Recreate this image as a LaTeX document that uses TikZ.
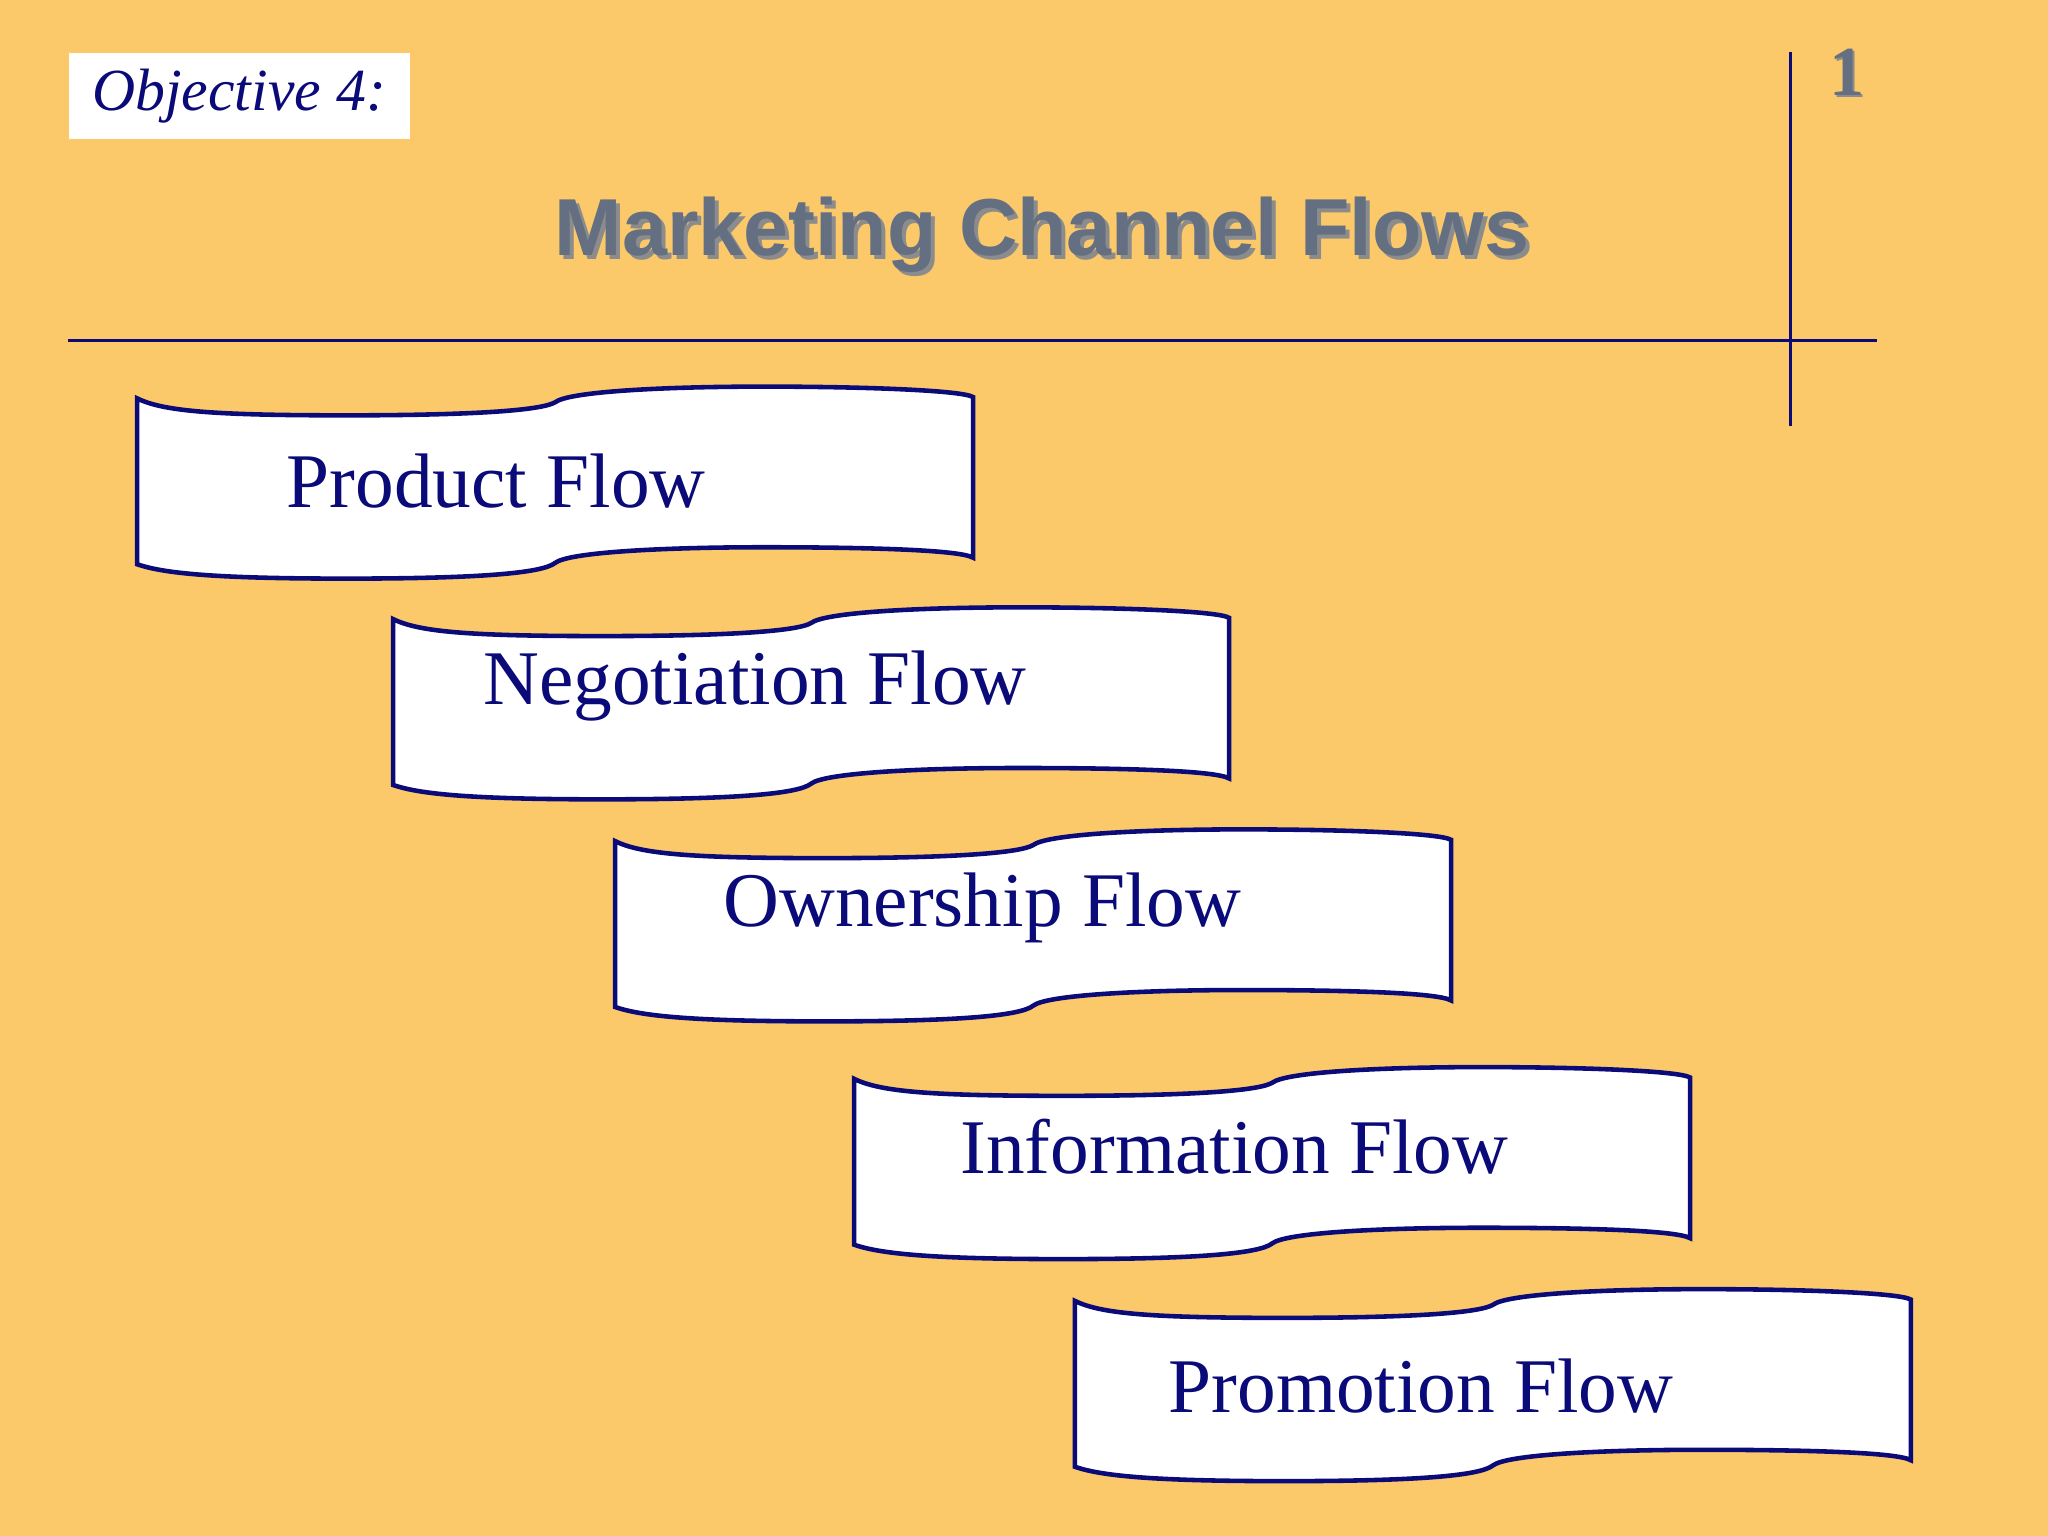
\documentclass[tikz,border=0pt]{standalone}
\usepackage{fontspec}
\setmainfont{Liberation Serif}
\newfontfamily\headfont{Liberation Sans}
\usetikzlibrary{positioning}
\definecolor{slidebg}{HTML}{FCC96A}
\definecolor{navy}{RGB}{10,10,120}
\definecolor{titlegrey}{RGB}{100,112,130}

% banner drawn from its top-left corner (display px)
\newcommand{\flowbanner}[2]{%
  \draw[banner, shift={(#1,#2)}]
    (0,0) .. controls (20,10) and (60,13) .. (160,13)
    .. controls (260,13) and (310,9) .. (320,3)
    .. controls (330,-5) and (400,-9) .. (480,-9)
    .. controls (560,-9) and (632,-6) .. (640,-1)
    -- (640,122)
    .. controls (630,116) and (560,114) .. (480,114)
    .. controls (400,114) and (330,118) .. (320,126)
    .. controls (310,134) and (260,138) .. (160,138)
    .. controls (60,138) and (20,134) .. (0,127) -- cycle;}

\begin{document}
\begin{tikzpicture}[
  x=0.013061cm, y=-0.013061cm,
  banner/.style={draw=navy, line width=1.3pt, fill=white},
  flowtext/.style={text=navy, font=\fontsize{22}{26}\selectfont, inner sep=0pt},
  rule/.style={draw=navy, line width=0.9pt}
]
  \fill[slidebg] (0,0) rectangle (1568,1176);
  \useasboundingbox (0,0) rectangle (1568,1176);

  % header
  \node[fill=white, minimum width=261*0.013061cm, minimum height=66*0.013061cm,
        inner sep=0pt, anchor=north west] (objbox) at (52,40) {};
  \node[text=navy, font=\fontsize{17}{20}\selectfont\itshape] (obj) at (objbox.center) {Objective 4:};
  \node[text=black!45, font=\headfont\bfseries\fontsize{23}{27}\selectfont] at (801,183) {Marketing Channel Flows};
  \node[text=titlegrey, font=\headfont\bfseries\fontsize{23}{27}\selectfont] (title) at (798,180) {Marketing Channel Flows};
  \node[text=black!45, font=\bfseries\fontsize{20}{24}\selectfont] at (1416,57) {1};
  \node[text=titlegrey, font=\bfseries\fontsize{20}{24}\selectfont] (pagenum) at (1414,55) {1};
  \coordinate (hl) at (52,261);
  \coordinate (hr) at (1437,261);
  \coordinate (vt) at (1371,40);
  \coordinate (vb) at (1371,326);
  \draw[rule] (hl) -- (hr);
  \draw[rule] (vt) -- (vb);

  % banners
  \flowbanner{105}{305}
  \flowbanner{301}{474}
  \flowbanner{471}{644}
  \flowbanner{654}{826}
  \flowbanner{823}{996}

  \node[flowtext] (product) at (380,368) {Product Flow};
  \node[flowtext] (negotiation) at (578,525) {Negotiation Flow};
  \node[flowtext] (ownership) at (752,695) {Ownership Flow};
  \node[flowtext] (information) at (945,878) {Information Flow};
  \node[flowtext] (promotion) at (1088,1061) {Promotion Flow};
\end{tikzpicture}
\end{document}
